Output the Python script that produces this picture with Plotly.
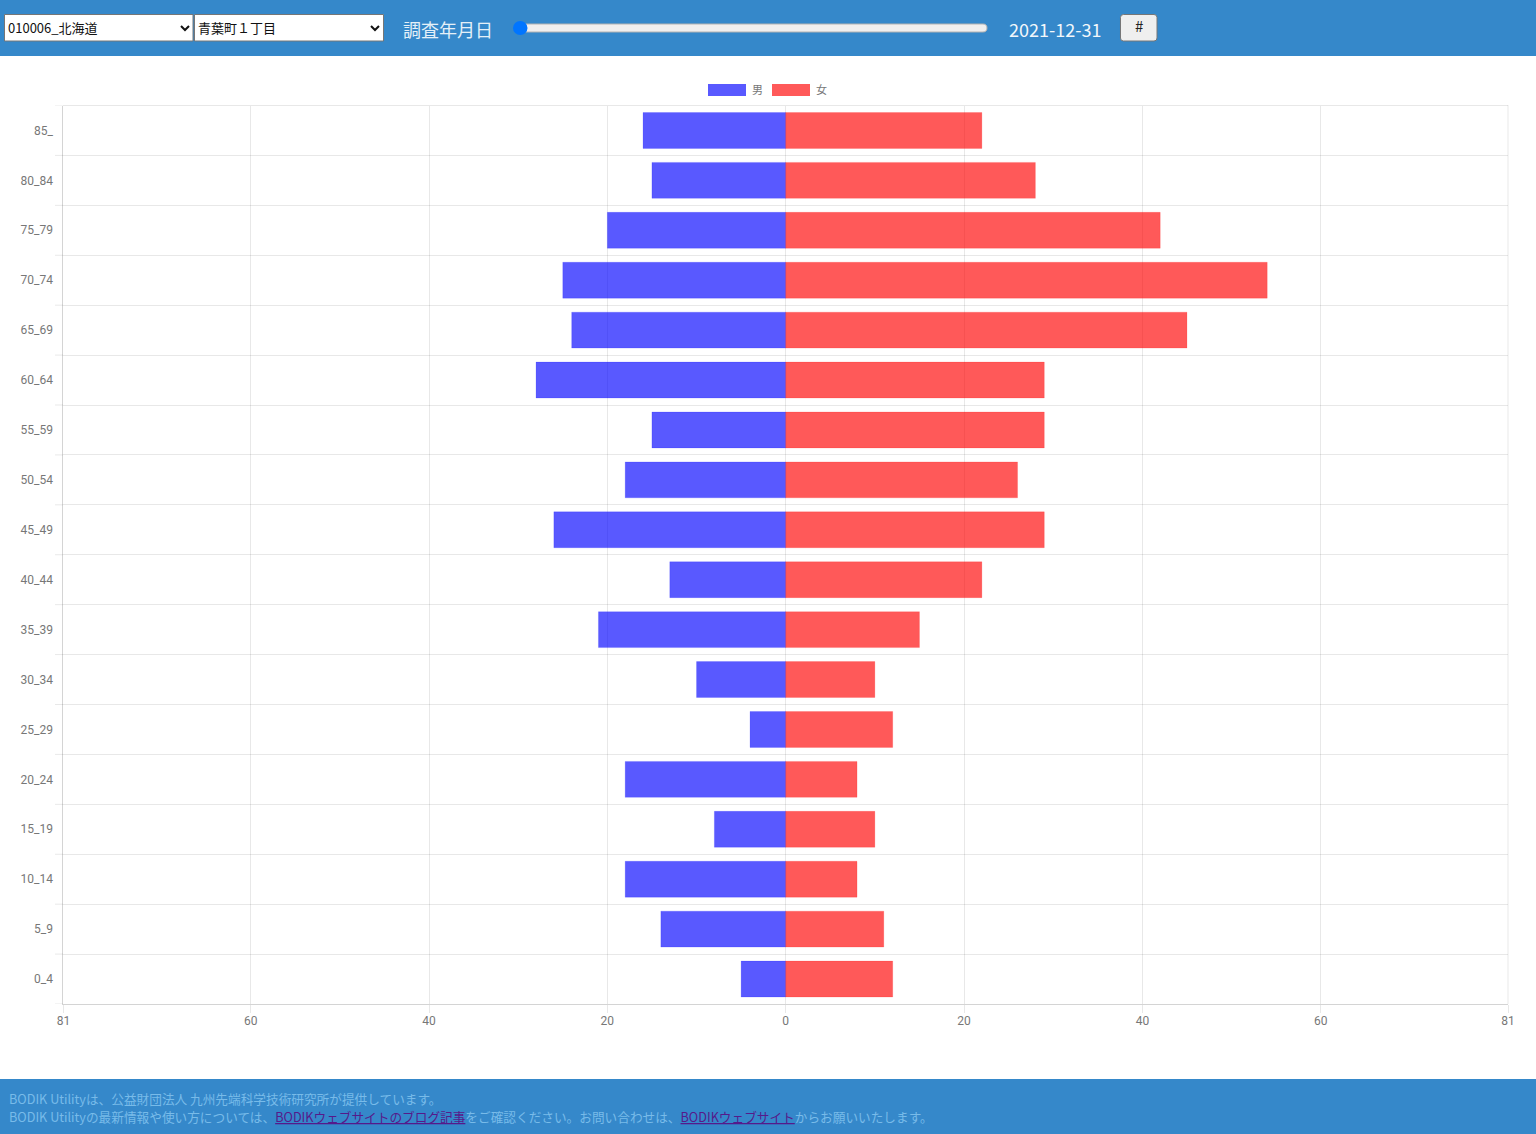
import plotly.graph_objects as go

W, H = 1536, 1134

age_groups = ["0_4", "5_9", "10_14", "15_19", "20_24", "25_29", "30_34", "35_39", "40_44",
              "45_49", "50_54", "55_59", "60_64", "65_69", "70_74", "75_79", "80_84", "85_"]
male = [5, 14, 18, 8, 18, 4, 10, 21, 13, 26, 18, 15, 28, 24, 25, 20, 15, 16]
female = [12, 11, 8, 10, 8, 12, 10, 15, 22, 29, 26, 29, 29, 45, 54, 42, 28, 22]
tick_values = [-81, -60, -40, -20, 0, 20, 40, 60, 81]
tick_labels = ["81", "60", "40", "20", "0", "20", "40", "60", "81"]

MALE_COLOR = "rgba(0,0,255,0.65)"
FEMALE_COLOR = "rgba(255,0,0,0.65)"
BAND = "#3588ca"
LABEL = "#777777"
GRID = "rgba(0,0,0,0.09)"
AXIS = "rgba(0,0,0,0.17)"
CJK = "'Noto Sans CJK JP', 'Noto Sans', sans-serif"
SANS = "Roboto, 'Liberation Sans', Arial, 'Noto Sans CJK JP', sans-serif"


def px(x):
    return x / W


def py(y):
    return 1 - y / H


def rect(x0, y0, x1, y1, fill, line=None, lw=1):
    return dict(type="rect", xref="paper", yref="paper", x0=px(x0), y0=py(y0), x1=px(x1), y1=py(y1),
                fillcolor=fill, line=dict(color=line or fill, width=lw if line else 0), layer="above")


def rounded(x0, y0, x1, y1, r, fill, line):
    p = lambda a, b: f"{px(a):.5f},{py(b):.5f}"
    d = (f"M{p(x0 + r, y0)} L{p(x1 - r, y0)} Q{p(x1, y0)} {p(x1, y0 + r)} L{p(x1, y1 - r)} "
         f"Q{p(x1, y1)} {p(x1 - r, y1)} L{p(x0 + r, y1)} Q{p(x0, y1)} {p(x0, y1 - r)} "
         f"L{p(x0, y0 + r)} Q{p(x0, y0)} {p(x0 + r, y0)} Z")
    return dict(type="path", xref="paper", yref="paper", path=d, fillcolor=fill,
                line=dict(color=line, width=1), layer="above")


def text(x, y, s, size, color, family=CJK, anchor="left"):
    return dict(xref="paper", yref="paper", x=px(x), y=py(y), text=s, showarrow=False, xanchor=anchor,
                yanchor="middle", font=dict(size=size, color=color, family=family), borderpad=0, borderwidth=0)


def path(points, color, width, fill="rgba(0,0,0,0)"):
    d = "M" + " L".join(f"{px(a):.5f},{py(b):.5f}" for a, b in points)
    return dict(type="path", xref="paper", yref="paper", path=d, line=dict(color=color, width=width),
                fillcolor=fill, layer="above")


fig = go.Figure()
fig.add_bar(y=age_groups, x=[-v for v in male], name="男", orientation="h", width=0.72,
            marker=dict(color=MALE_COLOR, line=dict(color="rgba(0,0,255,0.15)", width=1)))
fig.add_bar(y=age_groups, x=female, name="女", orientation="h", width=0.72,
            marker=dict(color=FEMALE_COLOR, line=dict(color="rgba(255,0,0,0.15)", width=1)))

shapes = [
    rect(0, 0, W, 56, BAND),
    rect(0, 1079, W, H, BAND),
    rect(4.5, 14.5, 193, 41, "#ffffff", "#767676"),
    rect(194.5, 14.5, 383.5, 41, "#ffffff", "#767676"),
    path([(181, 26), (185, 30), (189, 26)], "#111111", 2),
    path([(371, 26), (375, 30), (379, 26)], "#111111", 2),
    rounded(520, 24, 987, 32, 4, "#efefef", "#b2b2b2"),
    dict(type="circle", xref="paper", yref="paper", x0=px(513), y0=py(35), x1=px(527.5), y1=py(21),
         fillcolor="#0075ff", line=dict(width=0), layer="above"),
    rounded(1120.5, 14.5, 1157, 41, 3, "#efefef", "#767676"),
    rect(708, 84, 746, 96, MALE_COLOR),
    rect(772, 84, 810, 96, FEMALE_COLOR),
    # frame edges plotly omits at the ends of the range
    dict(type="line", xref="paper", yref="paper", x0=px(63), x1=px(1508), y0=py(105.5), y1=py(105.5),
         line=dict(color=GRID, width=1), layer="below"),
    dict(type="line", xref="paper", yref="paper", x0=px(1508), x1=px(1508), y0=py(105), y1=py(1004),
         line=dict(color=GRID, width=1), layer="below"),
]
# short tick stubs on the category boundaries
for i in range(len(age_groups) + 1):
    shapes.append(dict(type="line", xref="paper", yref="y", x0=px(55), x1=px(63), y0=i - 0.5, y1=i - 0.5,
                       line=dict(color=GRID, width=1), layer="below"))

link = "#551a8b"
foot = "#78bbe9"
annotations = [
    text(8, 27.5, "010006_北海道", 13, "#111111"),
    text(198, 27.5, "青葉町１丁目", 13, "#111111"),
    text(403, 29, "調査年月日", 18, "#e4f0f8"),
    text(1009, 29, "2021-12-31", 18, "#f2f7fb"),
    text(1138.5, 26, "#", 15, "#222222", anchor="center"),
    text(752, 89, "男", 11, LABEL),
    text(816, 89, "女", 11, LABEL),
    text(9, 1098, "BODIK Utilityは、公益財団法人 九州先端科学技術研究所が提供しています。", 12.67, foot),
    text(9, 1116.5,
         "BODIK Utilityの最新情報や使い方については、"
         f"<span style='color:{link}'><u>BODIKウェブサイトのブログ記事</u></span>"
         "をご確認ください。お問い合わせは、"
         f"<span style='color:{link}'><u>BODIKウェブサイト</u></span>"
         "からお願いいたします。", 12.67, foot),
]

fig.update_layout(
    width=W, height=H, margin=dict(l=0, r=0, t=0, b=0, pad=0), autosize=False,
    paper_bgcolor="#ffffff", plot_bgcolor="#ffffff", barmode="overlay", showlegend=False,
    font=dict(family=SANS, size=12, color=LABEL),
    shapes=shapes, annotations=annotations,
    xaxis=dict(domain=[px(63.4), px(1508)], range=[-81, 81], tickmode="array", tickvals=tick_values,
               ticktext=tick_labels, showgrid=True, gridcolor=GRID, gridwidth=1, zeroline=False,
               ticks="outside", ticklen=8, tickcolor=GRID, ticklabelstandoff=-2, showline=True,
               linecolor=AXIS, linewidth=1, tickfont=dict(size=12, color=LABEL), automargin=False),
    yaxis=dict(domain=[py(1004), py(105.5)], type="category", categoryorder="array", categoryarray=age_groups,
               range=[-0.5, 17.5], tickson="boundaries", showgrid=True, gridcolor=GRID,
               gridwidth=1, ticks="", ticklabelstandoff=7, showline=True,
               linecolor=AXIS, linewidth=1, tickfont=dict(size=12, color=LABEL), automargin=False),
)

fig.write_html("out.html", config=dict(displayModeBar=False),
               post_script="document.body.style.margin='0';document.body.style.overflow='hidden';")
